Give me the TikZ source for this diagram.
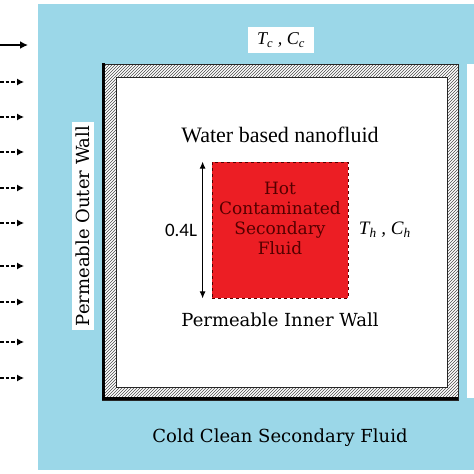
\documentclass[tikz,border=0pt]{standalone}
\usepackage{fontspec}
\setmainfont{Liberation Serif}
\newfontfamily\slabfont{DejaVu Serif}
\newfontfamily\dimfont{Carlito}
\usetikzlibrary{positioning, patterns, arrows.meta}
\definecolor{coldblue}{RGB}{155,215,232}
\definecolor{hotred}{RGB}{236,30,36}
\definecolor{darkred}{RGB}{85,0,0}

\begin{document}
\begin{tikzpicture}[x=1pt, y=-1pt, node distance=10pt,
    wall/.style={pattern=north east lines, pattern color=black!70, draw=black!85, line width=0.8pt},
    tagbox/.style={fill=white, inner sep=5pt},
    slabtext/.style={font=\slabfont\fontsize{18}{20}\selectfont},
    hotbox/.style={draw=darkred, dashed, line width=0.8pt, fill=hotred, minimum size=136pt},
    hottext/.style={text=darkred, align=center, font=\slabfont\fontsize{17}{20}\selectfont},
    inflow/.style={dash pattern=on 3.5pt off 2pt, line width=1.2pt, -{Latex[length=7pt,width=7pt]}},
    mainflow/.style={line width=1.8pt, -{Latex[length=8pt,width=8pt]}},
    dimarrow/.style={line width=1pt, {Latex[length=7pt,width=6pt]}-{Latex[length=7pt,width=6pt]}}]
    \useasboundingbox (0,0) rectangle (474,474);

    % cold secondary fluid
    \fill[coldblue] (38,4) rectangle (474,470);
    \fill[white] (467,64) rectangle (474,398);
    \node[tagbox, inner xsep=9pt, inner ysep=6pt, font=\fontsize{18}{20}\selectfont] (cold temp) at (281,40) {\textit{T\textsubscript{c} , C\textsubscript{c}}};

    % outer wall
    \fill[white] (102,64) rectangle (458,400);
    \draw[wall, even odd rule] (102,64) rectangle (458,400) (116,77) rectangle (447,387);
    \draw[line width=3pt] (103.5,63) -- (103.5,398.5) -- (458,398.5);

    % inner cavity
    \node[hotbox] (hot fluid) at (280,230) {};
    \node[hottext, yshift=12pt] (hot label) at (hot fluid) {Hot\\Contaminated\\Secondary\\Fluid};
    \coordinate (dim top) at ([xshift=-9pt]hot fluid.north west);
    \coordinate (dim bottom) at ([xshift=-9pt]hot fluid.south west);
    \draw[dimarrow] (dim top) -- (dim bottom);
    \node[left=2pt of hot fluid.west, xshift=-9pt, font=\dimfont\fontsize{19}{21}\selectfont] (dim label) {0.4L};
    \node[above=15pt of hot fluid, font=\fontsize{22}{24}\selectfont] (nanofluid) {Water based nanofluid};
    \node[right=7pt of hot fluid, font=\fontsize{19}{21}\selectfont] (hot temp) {\textit{T\textsubscript{h} , C\textsubscript{h}}};
    \node[below=11pt of hot fluid, slabtext] (inner wall) {Permeable Inner Wall};
    \node[slabtext] (cold fluid) at (280,438) {Cold Clean Secondary Fluid};
    \node[tagbox, inner sep=4pt, rotate=90, slabtext] (outer wall) at (83,226) {Permeable Outer Wall};

    % inflow arrows
    \coordinate (main in) at (0,45);
    \coordinate (main tip) at (28,45);
    \draw[mainflow] (main in) -- (main tip);
    \foreach \y [count=\i] in {82,117,152,188,223,266,302,342,378} {
        \coordinate (in \i) at (0,\y);
        \coordinate (tip \i) at (24,\y);
        \draw[inflow] (in \i) -- (tip \i);
    }
\end{tikzpicture}
\end{document}
